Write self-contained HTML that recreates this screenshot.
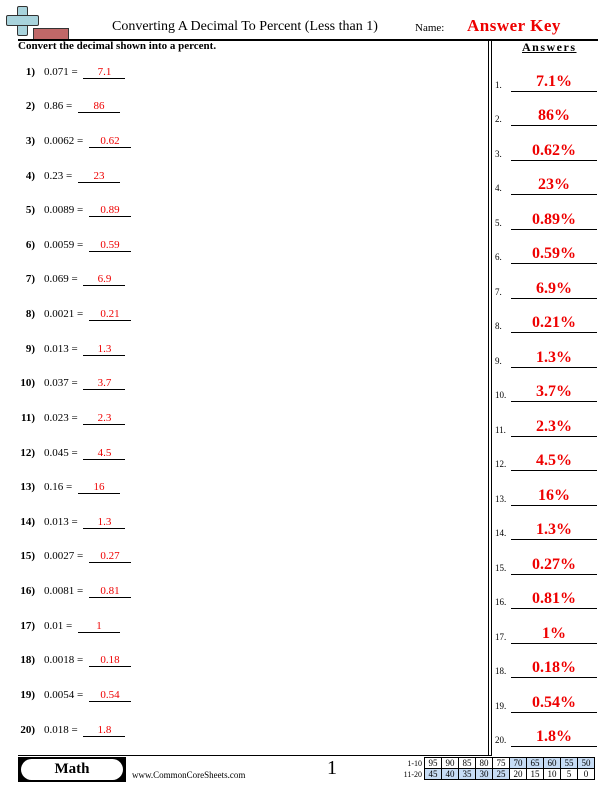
<!DOCTYPE html>
<html><head><style>
body{margin:0;width:612px;height:792px;background:#fff;position:relative;font-family:"Liberation Serif",serif;overflow:hidden}
.a{position:absolute;white-space:nowrap}
.p{font-size:11px;left:0;height:14px;line-height:14px}
.p b{display:inline-block;width:35px;text-align:right;margin-right:9px}
.p u{display:inline-block;text-decoration:none;border-bottom:1px solid #000;color:#e00;text-align:center;line-height:12px;margin-left:3px}
.an{left:492px;font-size:9px;height:20px;width:105px}
.an span{position:absolute;left:3px;bottom:2px}
.an i{position:absolute;left:19px;right:0;bottom:0;border-bottom:1px solid #000;text-align:center;font-style:normal;font-weight:bold;color:#e00;font-size:16px;line-height:18px}
table{border-collapse:collapse;font-size:9px}
td{border:1px solid #000;width:16px;height:10px;padding:0;text-align:center;line-height:10px}
td.bl{background:#c6dcf5}
</style></head><body>
<div class="a" style="left:17px;top:6px;width:9px;height:28px;background:#a8d3dc;border:1px solid #333;border-radius:2px"></div>
<div class="a" style="left:6px;top:15px;width:31px;height:9px;background:#a8d3dc;border:1px solid #333;border-radius:2px"></div>
<div class="a" style="left:33px;top:28px;width:34px;height:11px;background:#c06868;border:1px solid #333"></div>
<div class="a" style="left:112px;top:19px;font-size:14px">Converting A Decimal To Percent (Less than 1)</div>
<div class="a" style="left:415px;top:22px;font-size:11px">Name:</div>
<div class="a" style="left:467px;top:16px;font-size:17px;font-weight:bold;color:#e00;letter-spacing:0.5px">Answer Key</div>
<div class="a" style="left:18px;top:39px;width:580px;height:2px;background:#000"></div>
<div class="a" style="left:488px;top:41px;width:1px;height:715px;background:#000"></div>
<div class="a" style="left:491px;top:41px;width:1px;height:715px;background:#000"></div>
<div class="a" style="left:18px;top:755px;width:474px;height:1px;background:#000"></div>
<div class="a" style="left:18px;top:40px;font-size:11px;font-weight:bold">Convert the decimal shown into a percent.</div>
<div class="a" style="left:522px;top:40px;font-size:12px;font-weight:bold;letter-spacing:1.5px;text-decoration:underline">Answers</div>

<div class="a p" style="top:65px"><b>1)</b>0.071 = <u style="width:42px">7.1</u></div>
<div class="a p" style="top:99px"><b>2)</b>0.86 = <u style="width:42px">86</u></div>
<div class="a p" style="top:134px"><b>3)</b>0.0062 = <u style="width:42px">0.62</u></div>
<div class="a p" style="top:169px"><b>4)</b>0.23 = <u style="width:42px">23</u></div>
<div class="a p" style="top:203px"><b>5)</b>0.0089 = <u style="width:42px">0.89</u></div>
<div class="a p" style="top:238px"><b>6)</b>0.0059 = <u style="width:42px">0.59</u></div>
<div class="a p" style="top:272px"><b>7)</b>0.069 = <u style="width:42px">6.9</u></div>
<div class="a p" style="top:307px"><b>8)</b>0.0021 = <u style="width:42px">0.21</u></div>
<div class="a p" style="top:342px"><b>9)</b>0.013 = <u style="width:42px">1.3</u></div>
<div class="a p" style="top:376px"><b>10)</b>0.037 = <u style="width:42px">3.7</u></div>
<div class="a p" style="top:411px"><b>11)</b>0.023 = <u style="width:42px">2.3</u></div>
<div class="a p" style="top:446px"><b>12)</b>0.045 = <u style="width:42px">4.5</u></div>
<div class="a p" style="top:480px"><b>13)</b>0.16 = <u style="width:42px">16</u></div>
<div class="a p" style="top:515px"><b>14)</b>0.013 = <u style="width:42px">1.3</u></div>
<div class="a p" style="top:549px"><b>15)</b>0.0027 = <u style="width:42px">0.27</u></div>
<div class="a p" style="top:584px"><b>16)</b>0.0081 = <u style="width:42px">0.81</u></div>
<div class="a p" style="top:619px"><b>17)</b>0.01 = <u style="width:42px">1</u></div>
<div class="a p" style="top:653px"><b>18)</b>0.0018 = <u style="width:42px">0.18</u></div>
<div class="a p" style="top:688px"><b>19)</b>0.0054 = <u style="width:42px">0.54</u></div>
<div class="a p" style="top:723px"><b>20)</b>0.018 = <u style="width:42px">1.8</u></div>

<div class="a an" style="top:72px"><span>1.</span><i>7.1%</i></div>
<div class="a an" style="top:106px"><span>2.</span><i>86%</i></div>
<div class="a an" style="top:141px"><span>3.</span><i>0.62%</i></div>
<div class="a an" style="top:175px"><span>4.</span><i>23%</i></div>
<div class="a an" style="top:210px"><span>5.</span><i>0.89%</i></div>
<div class="a an" style="top:244px"><span>6.</span><i>0.59%</i></div>
<div class="a an" style="top:279px"><span>7.</span><i>6.9%</i></div>
<div class="a an" style="top:313px"><span>8.</span><i>0.21%</i></div>
<div class="a an" style="top:348px"><span>9.</span><i>1.3%</i></div>
<div class="a an" style="top:382px"><span>10.</span><i>3.7%</i></div>
<div class="a an" style="top:417px"><span>11.</span><i>2.3%</i></div>
<div class="a an" style="top:451px"><span>12.</span><i>4.5%</i></div>
<div class="a an" style="top:486px"><span>13.</span><i>16%</i></div>
<div class="a an" style="top:520px"><span>14.</span><i>1.3%</i></div>
<div class="a an" style="top:555px"><span>15.</span><i>0.27%</i></div>
<div class="a an" style="top:589px"><span>16.</span><i>0.81%</i></div>
<div class="a an" style="top:624px"><span>17.</span><i>1%</i></div>
<div class="a an" style="top:658px"><span>18.</span><i>0.18%</i></div>
<div class="a an" style="top:693px"><span>19.</span><i>0.54%</i></div>
<div class="a an" style="top:727px"><span>20.</span><i>1.8%</i></div>

<div class="a" style="left:18px;top:757px;width:108px;height:25px;background:#000"></div>
<div class="a" style="left:21px;top:759px;width:102px;height:21px;background:#fff;border-radius:11px;font-weight:bold;font-size:15px;text-align:center;line-height:21px">Math</div>
<div class="a" style="left:132px;top:770px;font-size:9px">www.CommonCoreSheets.com</div>
<div class="a" style="left:327px;top:757px;font-size:20px">1</div>
<div class="a" style="left:396px;top:758px;font-size:8px;line-height:11px;text-align:right;width:26px">1-10<br>11-20</div>
<table class="a" style="left:424px;top:757px">
<tr><td>95</td><td>90</td><td>85</td><td>80</td><td>75</td><td class="bl">70</td><td class="bl">65</td><td class="bl">60</td><td class="bl">55</td><td class="bl">50</td></tr>
<tr><td class="bl">45</td><td class="bl">40</td><td class="bl">35</td><td class="bl">30</td><td class="bl">25</td><td>20</td><td>15</td><td>10</td><td>5</td><td>0</td></tr>
</table>
</body></html>
